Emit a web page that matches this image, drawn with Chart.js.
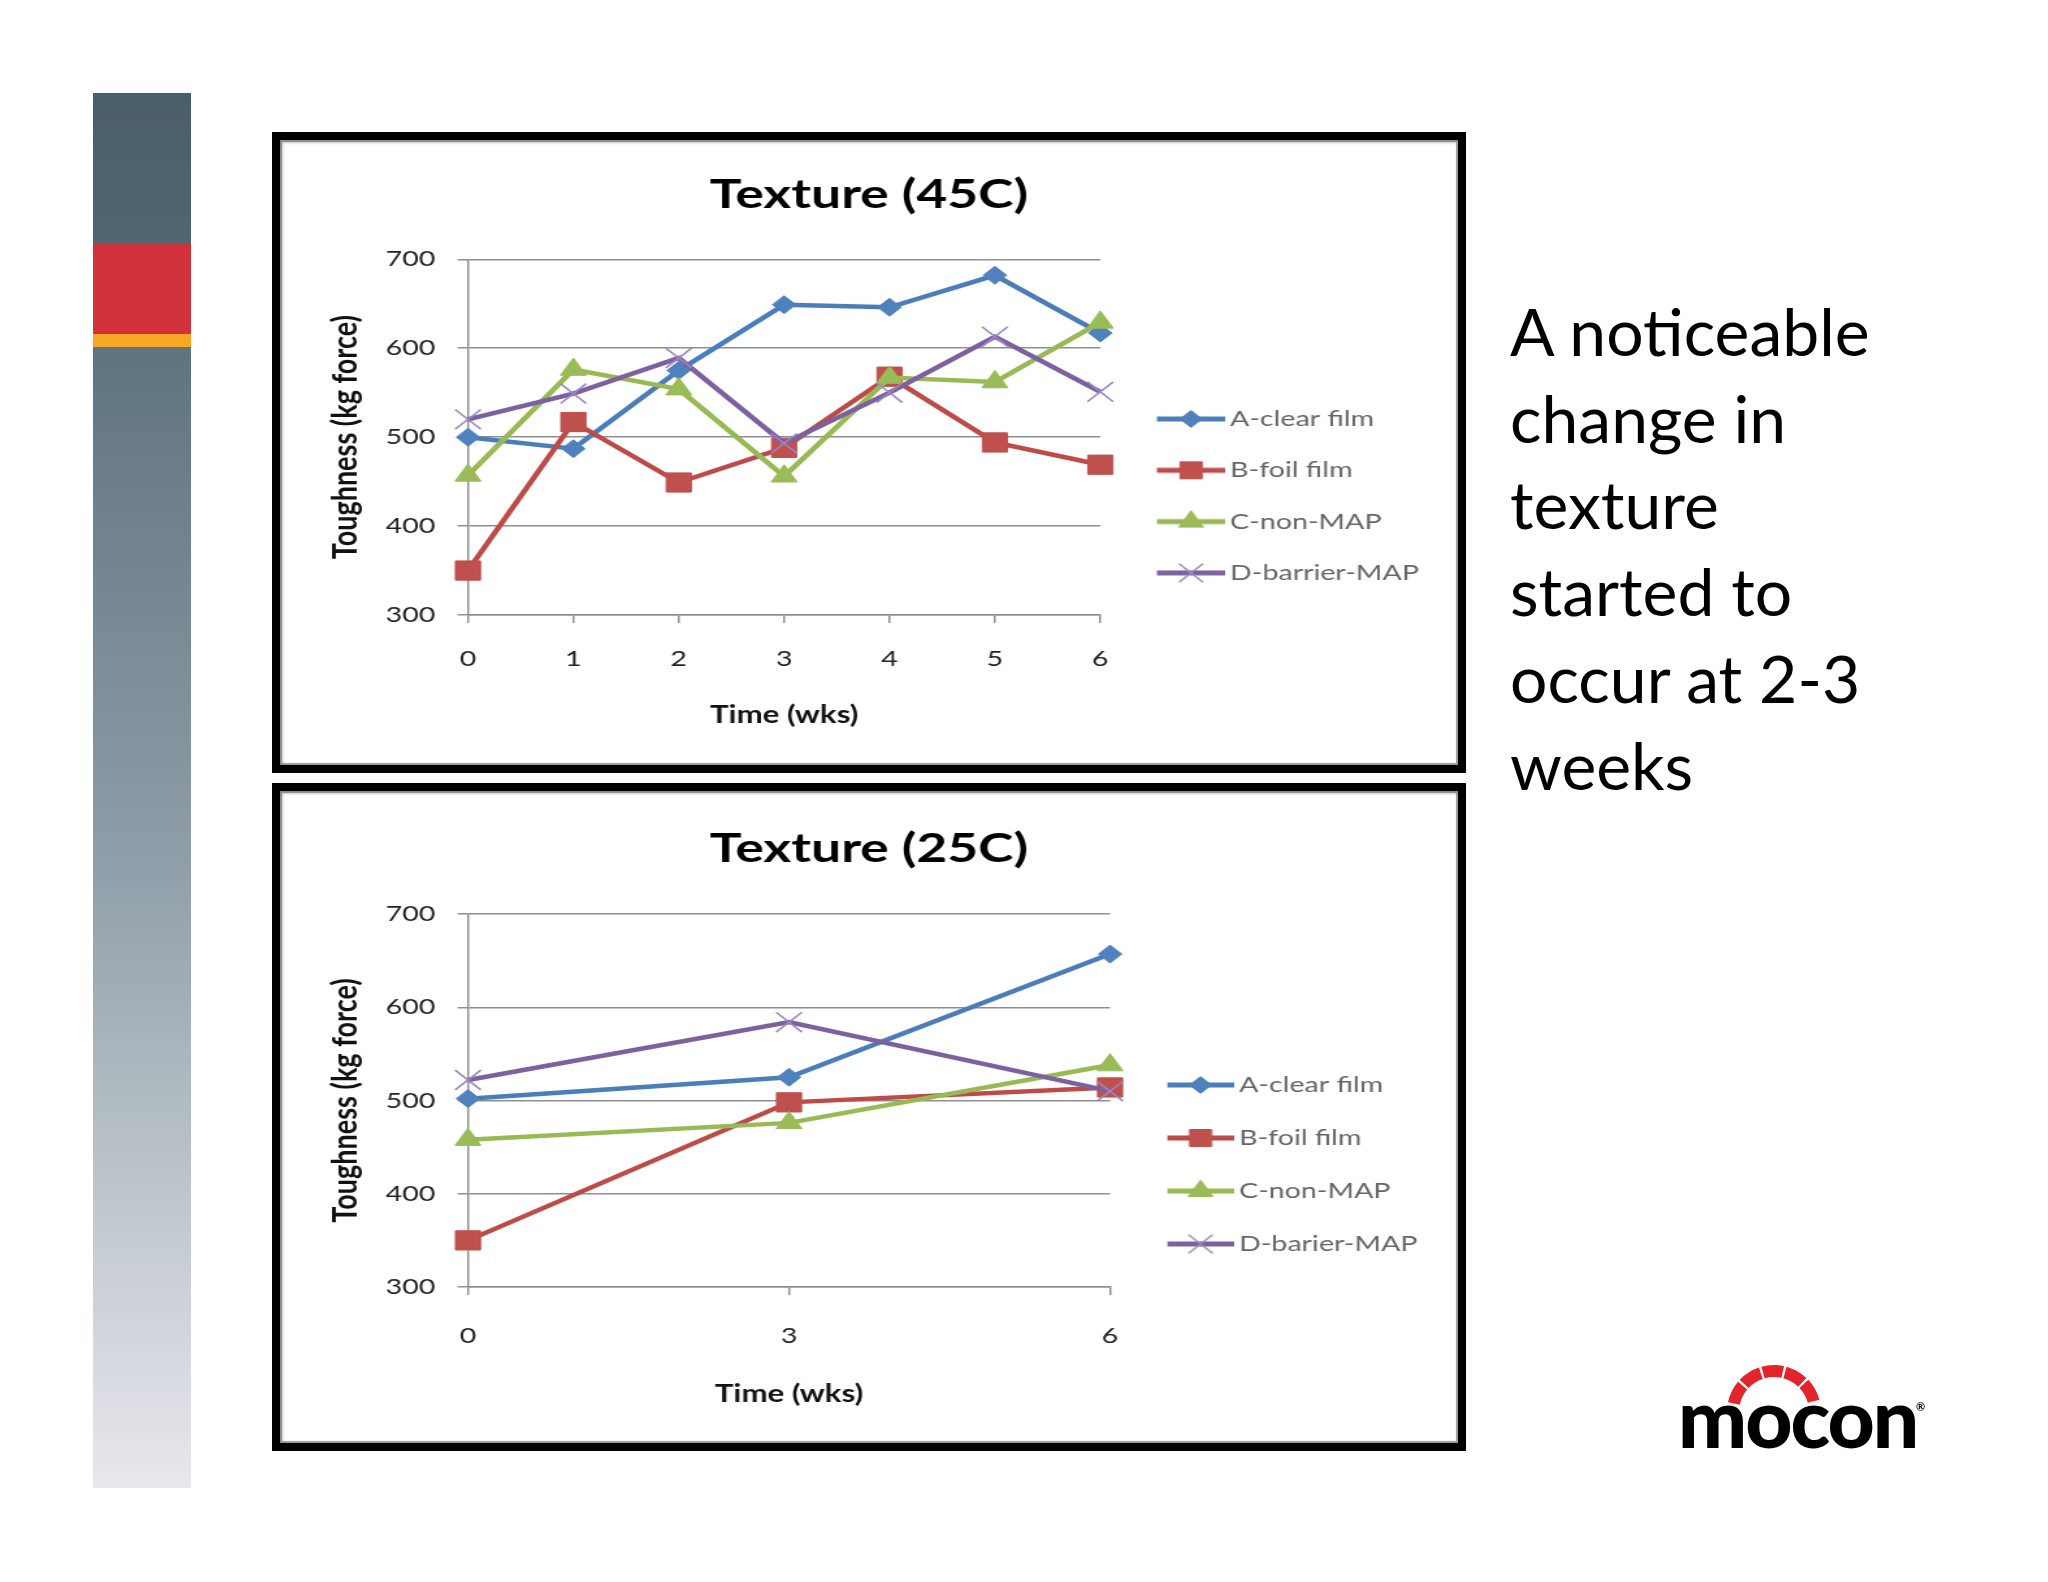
<!DOCTYPE html>
<html>

<head>
  <title>Texture</title>
  <script src="https://cdn.jsdelivr.net/npm/chart.js"></script>
  <style>
    body { margin: 0; width: 2048px; height: 1582px; background: #fff; position: relative; overflow: hidden; font-family: Lato, sans-serif; }
    .side { position: absolute; left: 93px; width: 98px; }
    .frame { position: absolute; left: 272px; width: 1194px; box-sizing: border-box; border: 8px solid #000; background: #fff;
      box-shadow: inset 2px 2px 1px #8a8a8a, inset -2px -2px 1px #9a9a9a, inset 3px 3px 3px #d0d0d0; }
    .plot { position: absolute; left: 0; top: 0; width: 906px; transform: scaleX(1.3); transform-origin: 0 0; }
    #note { position: absolute; left: 1510px; top: 288px; font-size: 66px; line-height: 86.7px; color: #000; }
    #logo { position: absolute; left: 1678px; top: 1376px; font-size: 82px; line-height: 80px; font-weight: 900; letter-spacing: -2px; color: #000; }
    #reg { position: absolute; left: 1916px; top: 1400px; font-size: 11px; font-weight: 700; }
  </style>
</head>

<body>
  <div class="side" style="top:93px;height:150px;background:linear-gradient(#4a5d69,#506673)"></div>
  <div class="side" style="top:243px;height:91px;background:#d0313a"></div>
  <div class="side" style="top:334px;height:13px;background:#f6a824"></div>
  <div class="side" style="top:347px;height:1141px;background:linear-gradient(#5f7380,#8f9ea8 45%,#bfc7cd 75%,#e8e8ee)"></div>

  <div class="frame" style="top:132px;height:641px">
    <div class="plot" style="height:625px"><canvas id="chart45"></canvas></div>
  </div>
  <div class="frame" style="top:783px;height:668px">
    <div class="plot" style="height:652px"><canvas id="chart25"></canvas></div>
  </div>

  <div id="note">A noticeable<br>change in<br>texture<br>started to<br>occur at 2-3<br>weeks</div>

  <svg id="arc" width="2048" height="1582" style="position:absolute;left:0;top:0"></svg>
  <div id="logo">mocon</div>
  <div id="reg">®</div>

  <script>
    // values
    const weeks45 = ['0', '1', '2', '3', '4', '5', '6'];
    const clear45 = [500, 487, 575, 649, 646, 682, 617];
    const foil45 = [350, 517, 449, 488, 568, 494, 469];
    const nonMap45 = [457, 576, 554, 456, 567, 562, 629];
    const barrier45 = [520, 549, 589, 493, 550, 613, 551];

    const weeks25 = ['0', '3', '6'];
    const clear25 = [502, 525, 657];
    const foil25 = [350, 498, 514];
    const nonMap25 = [458, 476, 538];
    const barrier25 = [522, 584, 510];

    const names45 = ['A-clear film', 'B-foil film', 'C-non-MAP', 'D-barrier-MAP'];
    const names25 = ['A-clear film', 'B-foil film', 'C-non-MAP', 'D-barier-MAP'];

    const yTicks = [300, 400, 500, 600, 700];

    const lineColors = ['#4A7EBB', '#BE4B48', '#98B954', '#7D60A0'];
    const markColors = ['#4F81BD', '#C0504D', '#9BBB59', '#9C87C2'];
    const markStyles = ['rectRot', 'rect', 'triangle', 'crossRot'];
    const markRadius = [9, 13.6, 11.5, 14];
    const legendRadius = [8.5, 12, 11, 13];
    const gridColor = '#8f8f8f';

    Chart.defaults.font.family = 'Lato';

    function legendIcon(i, w, lineStart) {
      const c = document.createElement('canvas');
      c.width = w;
      c.height = 30;
      const g = c.getContext('2d');
      g.strokeStyle = lineColors[i];
      g.lineWidth = 5;
      g.beginPath();
      g.moveTo(lineStart, 15);
      g.lineTo(w, 15);
      g.stroke();
      g.fillStyle = markColors[i];
      g.strokeStyle = markColors[i];
      g.lineWidth = i == 3 ? 1.6 : 1;
      Chart.helpers.drawPoint(g, { pointStyle: markStyles[i], radius: legendRadius[i], borderWidth: g.lineWidth, rotation: 0 }, (lineStart + w) / 2, 15);
      return c;
    }

    function textWidth(size, texts) {
      const g = document.createElement('canvas').getContext('2d');
      g.font = `${size}px Lato`;
      return Math.max(...texts.map(t => g.measureText(t).width));
    }

    function makeChart(id, title, labels, names, series, L) {
      const legendSize = 22;
      const legendW = L.legendGap + L.boxW + legendSize / 2 + textWidth(legendSize, names) + 10;
      const side = Math.max(0, L.W - L.right - legendW);
      const icons = names.map((n, i) => legendIcon(i, L.iconW, L.lineStart));

      new Chart(document.getElementById(id), {
        type: 'line',
        data: {
          labels: labels,
          datasets: series.map((d, i) => ({
            label: names[i],
            data: d,
            order: 4 - i,
            borderColor: lineColors[i],
            borderWidth: 4.5,
            tension: 0,
            pointStyle: markStyles[i],
            pointRadius: markRadius[i],
            pointBackgroundColor: markColors[i],
            pointBorderColor: markColors[i],
            pointBorderWidth: i == 3 ? 1.6 : 1
          }))
        },
        options: {
          responsive: true,
          maintainAspectRatio: false,
          animation: false,
          layout: { padding: { left: side, right: side, top: 0, bottom: 0 } },
          plugins: {
            tooltip: { enabled: false },
            title: {
              display: true,
              text: title,
              color: '#000',
              font: { size: 41, weight: 'bold' },
              padding: { top: L.titleTop, bottom: L.titleBottom }
            },
            legend: {
              position: 'right',
              align: 'start',
              maxWidth: 500,
              title: { display: true, text: '', font: { size: 10, lineHeight: 1 }, padding: { top: L.legendTop - 10, bottom: 0 } },
              labels: {
                usePointStyle: true,
                pointStyleWidth: L.boxW,
                padding: L.legendGap,
                color: '#1a1a1a',
                font: { size: legendSize },
                generateLabels: chart => names.map((n, i) => ({
                  text: n,
                  fillStyle: markColors[i],
                  strokeStyle: lineColors[i],
                  lineWidth: 0,
                  hidden: false,
                  datasetIndex: i,
                  pointStyle: icons[i]
                }))
              }
            }
          },
          scales: {
            x: {
              type: 'category',
              offset: false,
              grid: { display: true, drawOnChartArea: false, drawTicks: true, tickLength: 8, color: gridColor, lineWidth: 1.5 },
              border: { color: gridColor, width: 1.5 },
              ticks: { color: '#222', font: { size: 22 }, padding: L.xTickPad, maxRotation: 0, autoSkip: false },
              title: { display: true, text: 'Time (wks)', color: '#111', font: { size: 24, weight: 'bold' }, padding: { top: 0, bottom: L.xTitleBottom } },
              afterFit: s => { s.height = L.H - L.bottom; }
            },
            y: {
              min: yTicks[0],
              max: yTicks[yTicks.length - 1],
              afterBuildTicks: s => { s.ticks = yTicks.map(v => ({ value: v })); },
              grid: { color: gridColor, lineWidth: 1.5, tickLength: 8 },
              border: { color: gridColor, width: 1.5 },
              ticks: { color: '#222', font: { size: 22 }, padding: 17 },
              title: { display: true, text: 'Toughness (kg force)', color: '#111', font: { size: 27, weight: 'bold' }, padding: { top: L.yTitleX - side - 16, bottom: 0 } },
              afterFit: s => { s.width = L.left - side; }
            }
          }
        }
      });
    }

    makeChart('chart45', 'Texture (45C)', weeks45, names45, [clear45, foil45, nonMap45, barrier45], {
      W: 906, H: 625, left: 144.6, right: 631, bottom: 475,
      titleTop: 30.4, titleBottom: 39.7, xTickPad: 22.8, xTitleBottom: 35.6,
      legendGap: 29.3, legendTop: 238.7, boxW: 59.5, iconW: 74, lineStart: 21.5, yTitleX: 50
    });
    makeChart('chart25', 'Texture (25C)', weeks25, names25, [clear25, foil25, nonMap25, barrier25], {
      W: 906, H: 652, left: 144.6, right: 638.5, bottom: 496,
      titleTop: 32.9, titleBottom: 40.9, xTickPad: 27.6, xTitleBottom: 34,
      legendGap: 31, legendTop: 252, boxW: 57.2, iconW: 71, lineStart: 20, yTitleX: 50
    });

    // logo arc segments
    const svg = document.getElementById('arc');
    const cx = 1774, cy = 1412, ro = 47, ri = 35;
    const pt = (r, a) => `${(cx + r * Math.cos(a * Math.PI / 180)).toFixed(1)} ${(cy - r * Math.sin(a * Math.PI / 180)).toFixed(1)}`;
    let paths = '';
    for (let k = 0; k < 5; k++) {
      const a0 = 168 - k * 31.2, a1 = a0 - 28;
      paths += `<path d="M${pt(ro, a0)} A${ro} ${ro} 0 0 1 ${pt(ro, a1)} L${pt(ri, a1)} A${ri} ${ri} 0 0 0 ${pt(ri, a0)} Z" fill="#e3242b"/>`;
    }
    svg.innerHTML = paths;
  </script>
</body>

</html>
